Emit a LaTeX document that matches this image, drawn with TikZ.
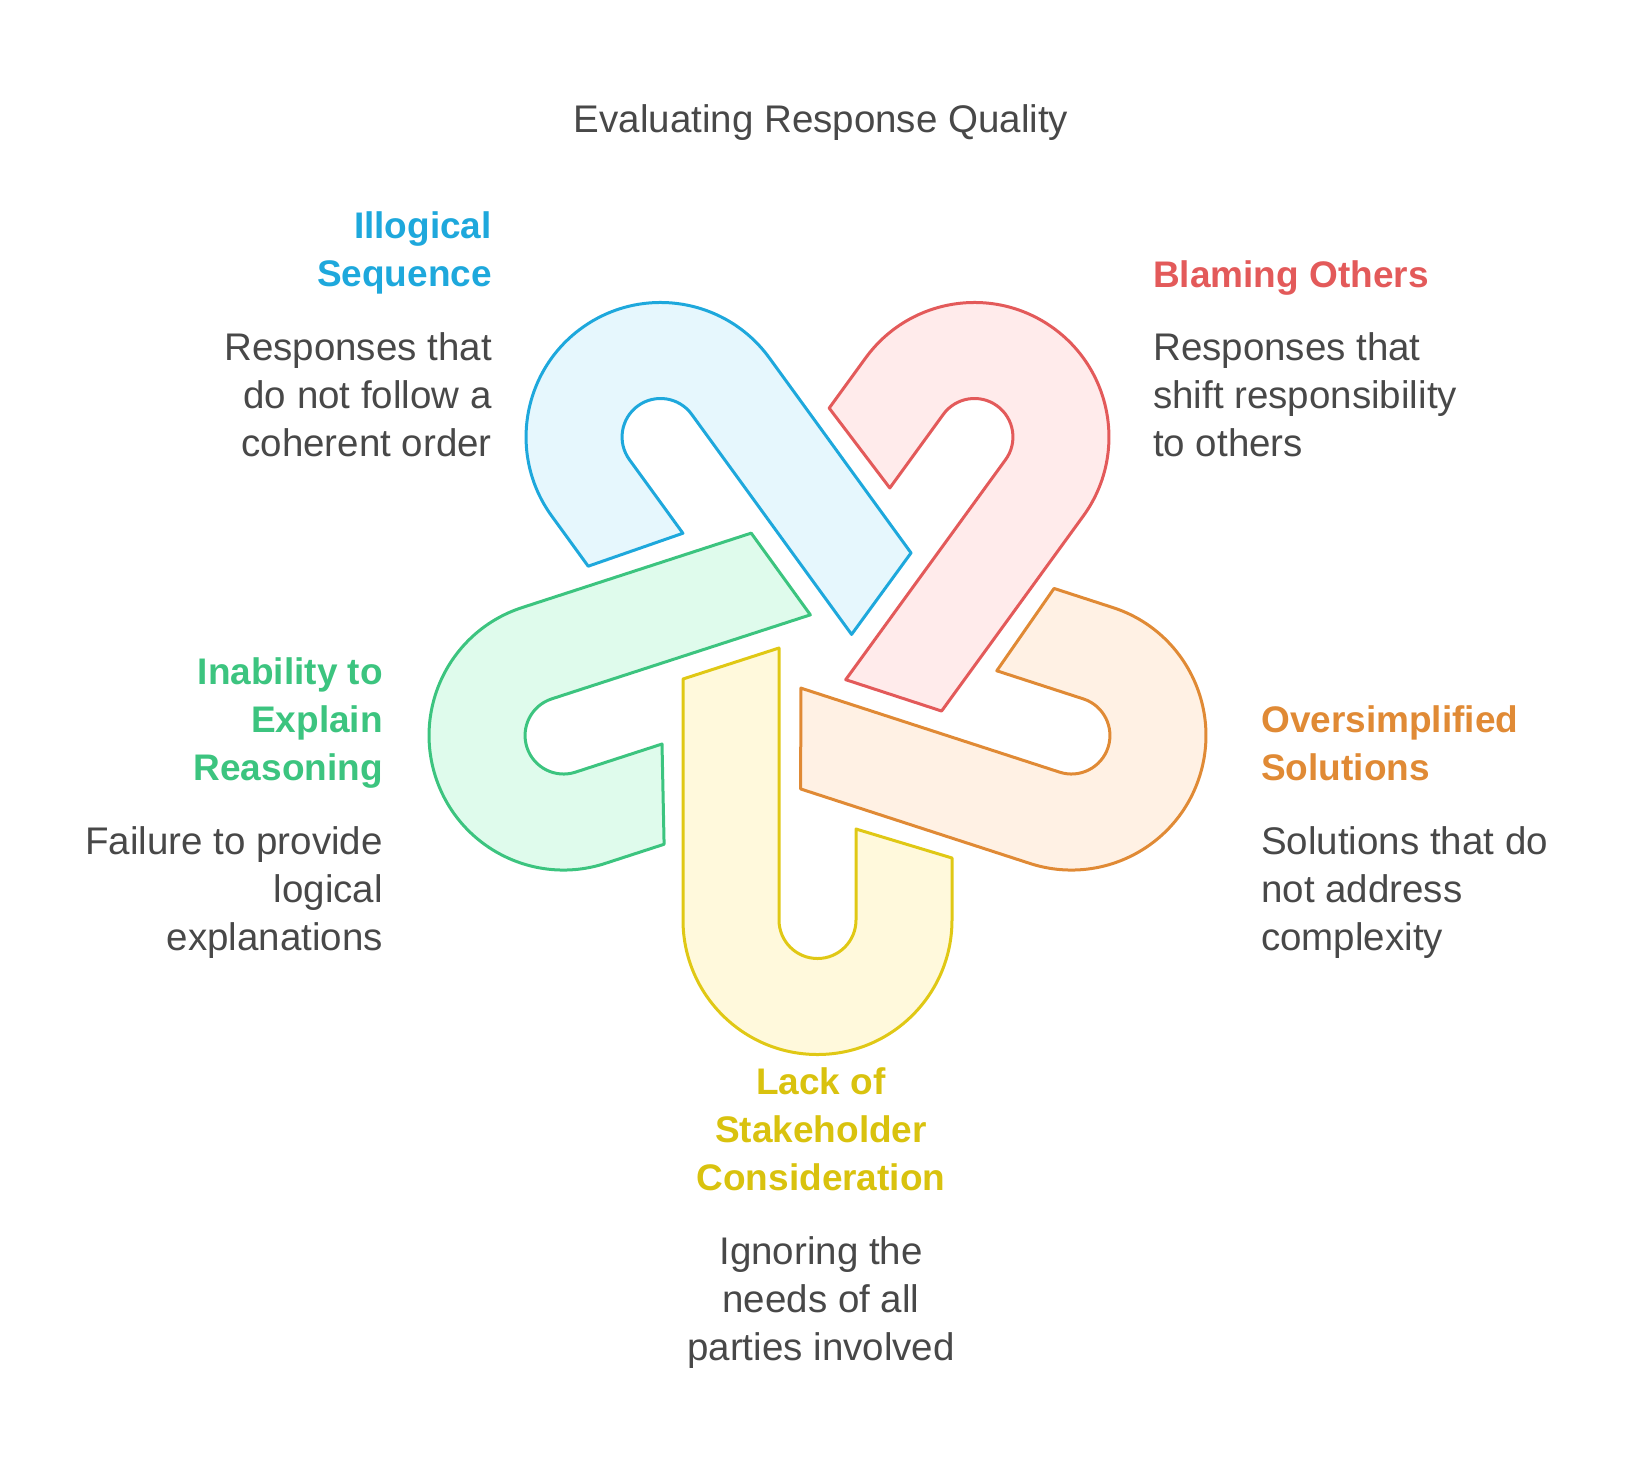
\documentclass[tikz,border=0pt]{standalone}
\usepackage{fontspec}
\setmainfont{Liberation Sans}
\definecolor{cB}{HTML}{1EA8DC}\definecolor{fB}{HTML}{E6F7FD}
\definecolor{cR}{HTML}{E35A5A}\definecolor{fR}{HTML}{FFEBEB}
\definecolor{cO}{HTML}{E08A35}\definecolor{fO}{HTML}{FFF1E4}
\definecolor{cY}{HTML}{E0C815}\definecolor{fY}{HTML}{FFF9DC}
\definecolor{cG}{HTML}{3CC47F}\definecolor{fG}{HTML}{DFFBEC}
\definecolor{tY}{HTML}{D9C20E}
\definecolor{txt}{HTML}{484848}
\begin{document}
\begin{tikzpicture}[x=1pt,y=-1pt,
  hp/.style={line width=3pt,line join=round},
  ttl/.style={font=\fontsize{37}{48}\selectfont\bfseries,inner sep=0,align=#1},
  bod/.style={font=\fontsize{38.5}{48}\selectfont,text=txt,inner sep=0,align=#1}]
\useasboundingbox (0,0) rectangle (1636,1468);
\newcommand{\hairpin}[3]{%
\begin{scope}[shift={(817.5,653)},rotate=#1]
\draw[hp,draw=#2,fill=#3] (-134.5,26) -- (-134.5,267) arc (180:0:134.5) -- (134.5,205) -- (38.5,176) -- (38.5,267) arc (0:180:38.5) -- (-38.5,-5) -- cycle;
\end{scope}}
\hairpin{0}{cY}{fY}
\hairpin{-72}{cG}{fG}
\hairpin{-144}{cB}{fB}
\hairpin{-216}{cR}{fR}
\hairpin{-288}{cO}{fO}
\node[font=\fontsize{38.5}{44}\selectfont,text=txt] (title) at (821,123) {Evaluating Response Quality};
\node[ttl=right,text=cB,anchor=north east] (tB) at (492,211) {Illogical\\Sequence};
\node[bod=right,anchor=north east] (bB) at (492,332) {Responses that\\do not follow a\\coherent order};
\node[ttl=left,text=cR,anchor=north west] (tR) at (1153,260) {Blaming Others};
\node[bod=left,anchor=north west] (bR) at (1153,332) {Responses that\\shift responsibility\\to others};
\node[ttl=right,text=cG,anchor=north east] (tG) at (383,657) {Inability to\\Explain\\Reasoning};
\node[bod=right,anchor=north east] (bG) at (383,826) {Failure to provide\\logical\\explanations};
\node[ttl=left,text=cO,anchor=north west] (tO) at (1261,705) {Oversimplified\\Solutions};
\node[bod=left,anchor=north west] (bO) at (1261,826) {Solutions that do\\not address\\complexity};
\node[ttl=center,text=tY,anchor=north] (tY) at (821,1067) {Lack of\\Stakeholder\\Consideration};
\node[bod=center,anchor=north] (bY) at (821,1236) {Ignoring the\\needs of all\\parties involved};
\end{tikzpicture}
\end{document}
